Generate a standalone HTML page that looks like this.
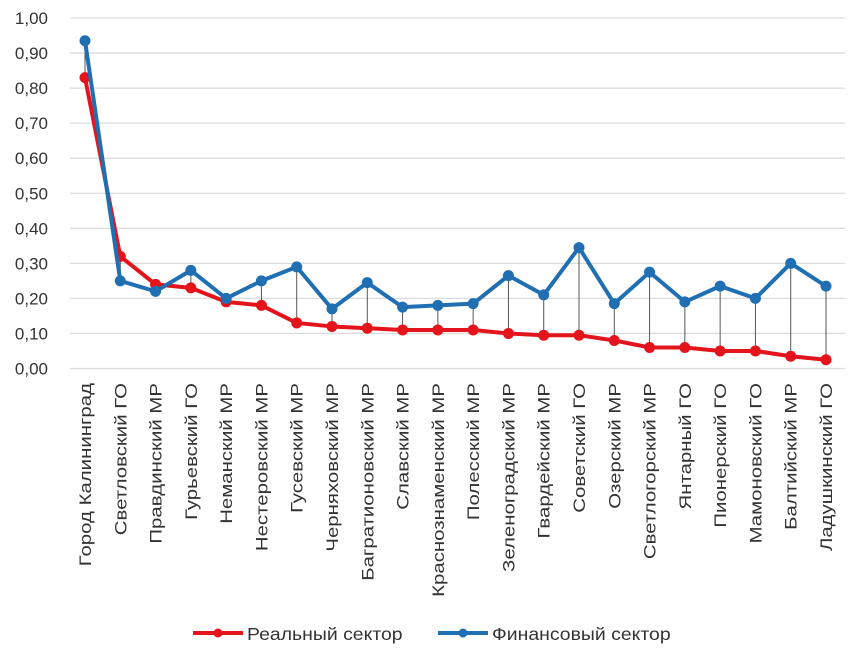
<!DOCTYPE html>
<html><head><meta charset="utf-8"><style>
body{margin:0;background:#fff;}
svg{display:block;font-family:"Liberation Sans",sans-serif;}
</style></head><body>
<svg id="c" width="868" height="664"></svg>
<script>
const categories=["Город Калининград","Светловский ГО","Правдинский МР","Гурьевский ГО","Неманский МР","Нестеровский МР","Гусевский МР","Черняховский МР","Багратионовский МР","Славский МР","Краснознаменский МР","Полесский МР","Зеленоградский МР","Гвардейский МР","Советский ГО","Озерский МР","Светлогорский МР","Янтарный ГО","Пионерский ГО","Мамоновский ГО","Балтийский МР","Ладушкинский ГО"];
const realValues=[0.83,0.32,0.24,0.23,0.19,0.18,0.13,0.12,0.115,0.11,0.11,0.11,0.10,0.095,0.095,0.08,0.06,0.06,0.05,0.05,0.035,0.025];
const finValues=[0.935,0.25,0.22,0.28,0.20,0.25,0.29,0.17,0.245,0.175,0.18,0.185,0.265,0.21,0.345,0.185,0.275,0.19,0.235,0.20,0.30,0.235];
const yTicks=["0,00","0,10","0,20","0,30","0,40","0,50","0,60","0,70","0,80","0,90","1,00"];
const NS="http://www.w3.org/2000/svg";
const svg=document.getElementById('c');
const y0=368.5,y1=18;
function ys(v){return y0-(y0-y1)*v;}
function xs(i){return 85+i*(826-85)/(categories.length-1);}
function mk(t,a){const e=document.createElementNS(NS,t);for(const k in a)e.setAttribute(k,a[k]);svg.appendChild(e);return e;}
yTicks.forEach((t,i)=>{
 const v=i/10;
 const g=mk('line',{x1:70,x2:845,y1:ys(v),y2:ys(v),stroke:'#dcdcdc','stroke-width':1.3});
 
 
 const tx=mk('text',{x:48,y:ys(v)+6,'text-anchor':'end','font-size':17,fill:'#333'});
 tx.textContent=t;
 
 
});
categories.forEach((c,i)=>{
 const d=mk('line',{x1:xs(i),x2:xs(i),y1:ys(realValues[i]),y2:ys(finValues[i]),stroke:'#555','stroke-width':1});
 
 
 const tx=mk('text',{x:0,y:0,'text-anchor':'end','font-size':17,fill:'#333',transform:`translate(${xs(i)+6},383) rotate(-90) scale(1.2,1)`});
 tx.textContent=c;
 
 
});
function series(vals,col,name){
 const p=mk('polyline',{points:vals.map((v,i)=>xs(i)+','+ys(v)).join(' '),fill:'none',stroke:col,'stroke-width':4,'stroke-linejoin':'round'});
 
 
 vals.forEach((v,i)=>{
  const m=mk('circle',{cx:xs(i),cy:ys(v),r:5.5,fill:col});
  
  
 });
}
series(realValues,'#e3141b','real-sector');
series(finValues,'#1f6fb2','financial-sector');
function legend(x,col,label,name){
 const l=mk('line',{x1:x,x2:x+50,y1:633,y2:633,stroke:col,'stroke-width':4});
 
 
 const c=mk('circle',{cx:x+25,cy:633,r:4.5,fill:col});
 
 
 const t=mk('text',{x:0,y:0,'font-size':18,fill:'#333',transform:`translate(${x+54},640) scale(1.08,1)`});
 t.textContent=label;
 
 
}
legend(193,'#e3141b','Реальный сектор','real-sector');
legend(438,'#1f6fb2','Финансовый сектор','financial-sector');
</script>
</body></html>
